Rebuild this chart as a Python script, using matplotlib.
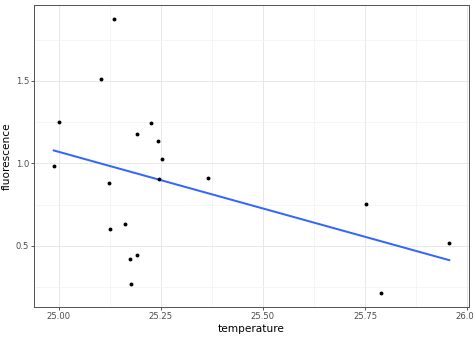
import numpy as np
import matplotlib
matplotlib.use("Agg")
import matplotlib.pyplot as plt
from matplotlib.ticker import FixedLocator

temperature = [24.988, 25.002, 25.1035, 25.136, 25.124, 25.126, 25.163, 25.175,
               25.192, 25.176, 25.191, 25.226, 25.242, 25.254, 25.245, 25.365,
               25.753, 25.790, 25.956]
fluorescence = [0.982, 1.250, 1.509, 1.876, 0.879, 0.600, 0.632, 0.422,
                0.446, 0.267, 1.178, 1.244, 1.133, 1.028, 0.905, 0.911,
                0.752, 0.212, 0.515]
x_ticks = [25.00, 25.25, 25.50, 25.75, 26.00]
x_tick_labels = ["25.00", "25.25", "25.50", "25.75", "26.00"]
y_ticks = [0.5, 1.0, 1.5]
y_tick_labels = ["0.5", "1.0", "1.5"]

W, H, DPI = 474, 338, 72
fig = plt.figure(figsize=(W / DPI, H / DPI), dpi=DPI)
ax = fig.add_axes([34 / W, 1 - 307 / H, (469 - 34) / W, (307 - 5) / H])

x = np.array(temperature)
y = np.array(fluorescence)

xr = x.max() - x.min()
yr = y.max() - y.min()
ax.set_xlim(x.min() - 0.05 * xr, x.max() + 0.05 * xr)
ax.set_ylim(y.min() - 0.05 * yr, y.max() + 0.05 * yr)

ax.set_xticks(x_ticks)
ax.set_xticklabels(x_tick_labels)
ax.set_yticks(y_ticks)
ax.set_yticklabels(y_tick_labels)
ax.xaxis.set_minor_locator(FixedLocator([24.875, 25.125, 25.375, 25.625, 25.875]))
ax.yaxis.set_minor_locator(FixedLocator([0.25, 0.75, 1.25, 1.75]))

ax.grid(True, which="major", color="#E8E8E8", linewidth=1.0)
ax.grid(True, which="minor", color="#F2F2F2", linewidth=0.7)
ax.set_axisbelow(True)

ax.tick_params(which="major", length=3, width=0.8, color="#333333",
               labelsize=8.5, labelcolor="#4D4D4D", pad=2)
ax.tick_params(which="minor", length=0)

for s in ax.spines.values():
    s.set_color("#555555")
    s.set_linewidth(1.0)

ax.scatter(x, y, s=15, color="black", zorder=3, linewidths=0)

coef = np.polyfit(x, y, 1)
xs = np.linspace(x.min(), x.max(), 100)
ax.plot(xs, np.polyval(coef, xs), color="#3366FF", linewidth=2.0, zorder=2)

ax.set_xlabel("temperature", fontsize=10.5, color="black", labelpad=3)
ax.set_ylabel("fluorescence", fontsize=10.5, color="black", labelpad=4)

fig.savefig("out.png", dpi=DPI)
